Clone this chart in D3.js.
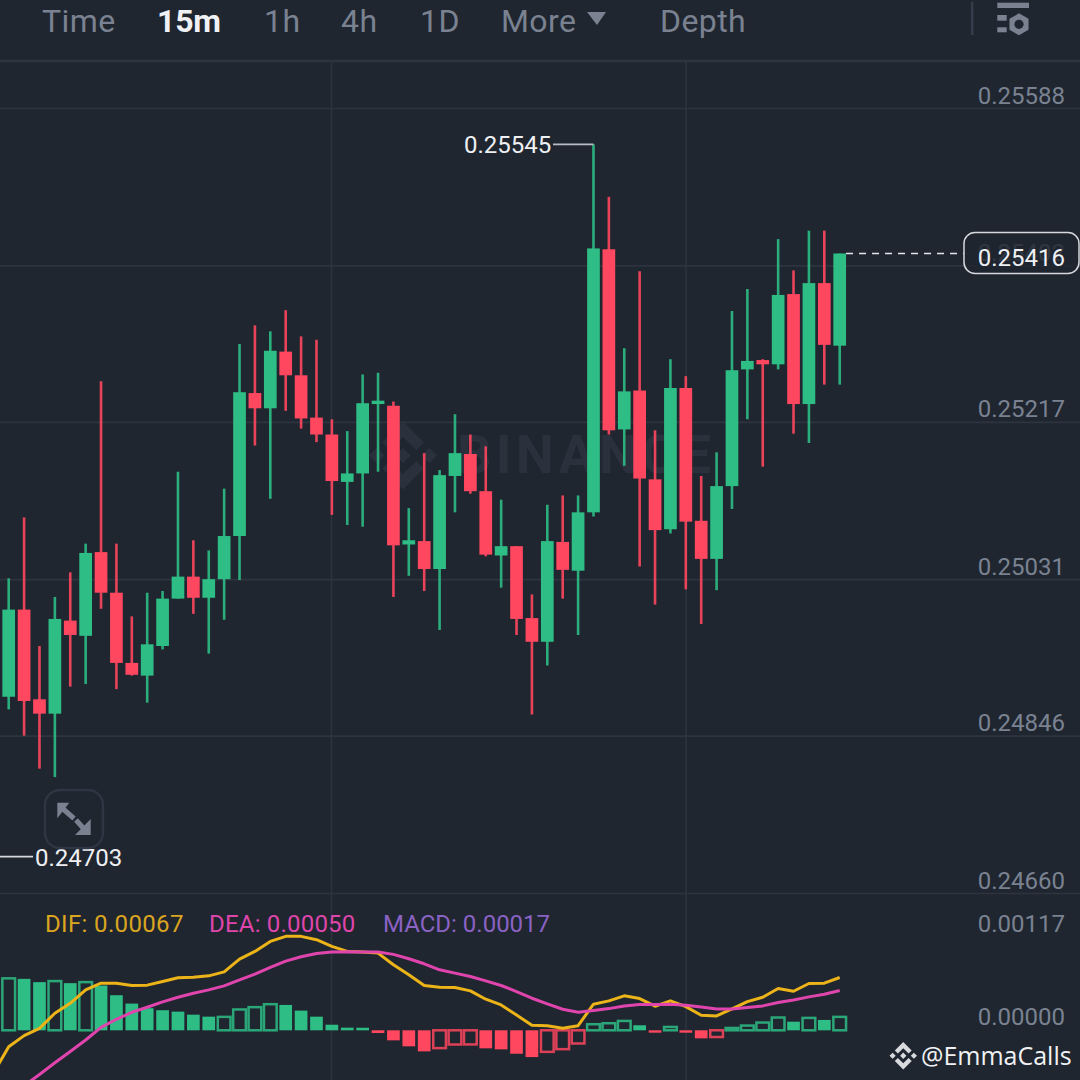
<!DOCTYPE html>
<html><head><meta charset="utf-8">
<style>html,body{margin:0;padding:0;background:#1f2630;overflow:hidden}svg{display:block}text{font-family:Roboto,sans-serif}</style>
<script src="https://cdn.jsdelivr.net/npm/d3@7"></script></head>
<body><svg id="c" width="1080" height="1080"></svg>
<script>
// Candles
const opens=[.24892,.24995,.24889,.24872,.24982,.24964,.25063,.25015,.24932,.24917,.24952,.25008,.25034,.25009,.25031,.25082,.25251,.25233,.25300,.25272,.25222,.25202,.25146,.25156,.25238,.25236,.25072,.25076,.25043,.25153,.25179,.25135,.25059,.25070,.24985,.24957,.25075,.25041,.25110,.25421,.25208,.25254,.25149,.25090,.25257,.25100,.25055,.25141,.25279,.25290,.25285,.25368,.25238,.25381,.25307];
const closes=[.24995,.24887,.24872,.24984,.24965,.25062,.25015,.24932,.24918,.24954,.25008,.25034,.25009,.25031,.25082,.25252,.25233,.25301,.25272,.25221,.25202,.25147,.25156,.25239,.25242,.25071,.25077,.25043,.25154,.25180,.25135,.25060,.25070,.24984,.24957,.25076,.25042,.25110,.25422,.25207,.25253,.25150,.25089,.25257,.25099,.25055,.25141,.25278,.25289,.25285,.25367,.25238,.25381,.25308,.25416];
const highs=[.25032,.25104,.24952,.25010,.25039,.25073,.25265,.25073,.24987,.25015,.25017,.25158,.25077,.25065,.25138,.25309,.25331,.25324,.25349,.25318,.25314,.25220,.25206,.25273,.25275,.25241,.25115,.25180,.25160,.25226,.25202,.25188,.25125,.25070,.25013,.25119,.25130,.25130,.25545,.25483,.25304,.25395,.25207,.25291,.25271,.25153,.25181,.25348,.25374,.25291,.25433,.25396,.25443,.25443,.25416];
const lows=[.24877,.24846,.24807,.24797,.24904,.24907,.24996,.24901,.24917,.24885,.24948,.25008,.24990,.24943,.24983,.25030,.25189,.25126,.25230,.25209,.25193,.25107,.25095,.25093,.25158,.25010,.25035,.25017,.24971,.25110,.25132,.25058,.25021,.24965,.24871,.24929,.25008,.24965,.25105,.25202,.25165,.25046,.25001,.25085,.25019,.24978,.25018,.25114,.25220,.25164,.25279,.25203,.25192,.25261,.25261];
const offscreenLow=0.24703;
// MACD panel, units of 0.00001. First entry is the candle just off the left edge.
const dif=[-54.1,-20.6,-6.7,2.5,21.4,33.9,50.7,59.1,59.1,56.2,56.6,61.2,65.8,66.6,68.3,73.3,89.3,98.9,111.5,117.8,117.8,113.6,105.2,98.9,98.1,96.8,82.2,69.6,56.2,54.1,53.6,49.4,39.0,31.8,19.2,6.2,5.8,2.5,5.8,32.7,36.9,43.2,39.8,30.2,36.9,29.7,18.8,18.0,26.8,36.0,41.5,52.4,49.0,58.7,59.1,66.2];
const dea=[-98.2,-83.9,-69.6,-55.4,-40.7,-26.5,-12.2,3.7,13.8,22.6,28.9,35.6,41.5,46.5,50.7,55.7,63.3,70.4,78.8,86.8,92.2,96.4,98.1,98.5,98.1,98.1,95.2,89.7,83.4,75.9,71.7,67.5,62.0,56.2,48.6,40.2,33.1,26.4,22.6,24.7,27.2,30.6,32.3,32.3,32.7,31.4,29.3,26.8,26.8,28.5,30.6,34.8,38.1,41.9,45.3,49.9];
const hist=[57,66.7,64.5,60.4,63.3,59.1,62.0,56.1,44.0,33.5,27.7,25.2,23.4,19.6,17.1,18.4,27.7,30.6,34.3,31.8,24.7,17.1,7.0,3.3,3.2,-3.4,-12.6,-20.1,-26.4,-23.9,-19.4,-19.3,-22.6,-23.9,-29.4,-33.6,-28.6,-25.2,-18.1,9.2,10.4,13.3,6.3,-3.0,5.8,-3.0,-10.1,-10.0,4.5,7.5,11.3,17.6,10.8,17.1,13.0,18.4];
// Labels
const priceTicks=[.25588,.25402,.25217,.25031,.24846,.24660];
const macdTicks=[117,0];
const lastPrice=0.25416;
const menuItems=[["Time",42],["15m",157],["1h",264],["4h",341],["1D",420],["More",501],["Depth",660]];
const legendItems=[["DIF: 0.00067",45,"#dca51f",.35],["DEA: 0.00050",209,"#df45ab",.2],["MACD: 0.00017",383,"#8a62c4",0]];
const verticalGrid=[331.5,686];

const BG="#1f2630",GRID="#2d343f",MUTED="#7a8291",UP="#2ebd85",DOWN="#ff475f";
const svg=d3.select("#c");
svg.append("rect").attr("width",1080).attr("height",1080).attr("fill",BG);

const x=d3.scaleLinear().domain([0,54]).range([8.7,839.7]);
const y=d3.scaleLinear().domain([.24660,.25588]).range([893,108]);
const ym=d3.scaleLinear().domain([0,117]).range([1030.3,937]);
const BW=12.7;

// Binance mark, unit box 126.61
const LOGO=[
 "38.73,53.2 63.31,28.63 87.9,53.22 102.2,38.92 63.31,0 24.42,38.9",
 "0,63.31 14.3,49.01 28.6,63.31 14.3,77.61",
 "38.73,73.41 63.31,97.98 87.9,73.4 102.21,87.69 63.31,126.61 24.41,87.71",
 "98,63.31 112.3,49.01 126.6,63.31 112.3,77.61",
 "77.83,63.3 63.31,48.78 48.8,63.29 63.31,77.81"];
function logo(px,py,size,fill){
 const g=svg.append("g").attr("transform",`translate(${px},${py}) scale(${size/126.61})`).attr("fill",fill);
 LOGO.forEach(p=>g.append("polygon").attr("points",p));
}
// Watermark
logo(369,421.5,68,"#2b313c");
svg.append("text").attr("x",457).attr("y",473).attr("font-size",54).attr("font-weight",700).attr("letter-spacing",4.2).attr("fill","#2b313c").text("BINANCE");

// Grid & price axis
svg.append("g").selectAll("line").data(verticalGrid).join("line")
 .attr("x1",d=>d).attr("x2",d=>d).attr("y1",62).attr("y2",1080).attr("stroke",GRID).attr("stroke-width",1.6);
const ax=svg.append("g").call(d3.axisRight(y).tickValues(priceTicks).tickSize(1080).tickFormat(d3.format(".5f")));
ax.select(".domain").remove();
ax.selectAll("line").attr("stroke",GRID).attr("stroke-width",1.6);
ax.selectAll("text").attr("x",1065).attr("y",0).attr("dy","-5px").attr("text-anchor","end").attr("font-size",24).attr("font-family","Roboto").attr("fill",MUTED);
svg.append("line").attr("x1",0).attr("x2",1080).attr("y1",61).attr("y2",61).attr("stroke",GRID).attr("stroke-width",2.4);

// Candles
const idx=d3.range(opens.length);
const col=i=>closes[i]>=opens[i]?UP:DOWN;
svg.append("g").selectAll("line").data(idx).join("line")
 .attr("x1",x).attr("x2",x).attr("y1",i=>y(highs[i])).attr("y2",i=>y(lows[i]))
 .attr("stroke",col).attr("stroke-width",2.6).attr("stroke-opacity",.9);
svg.append("g").selectAll("rect").data(idx).join("rect")
 .attr("x",i=>x(i)-BW/2).attr("width",BW)
 .attr("y",i=>y(Math.max(opens[i],closes[i])))
 .attr("height",i=>Math.max(2,Math.abs(y(opens[i])-y(closes[i]))))
 .attr("fill",col);

// Max / min annotations
const iMax=d3.maxIndex(highs);
const WHITE="#eef0f3";
svg.append("line").attr("x1",553).attr("x2",x(iMax)).attr("y1",y(highs[iMax])).attr("y2",y(highs[iMax])).attr("stroke","#b9bdc3").attr("stroke-width",1.6);
svg.append("text").attr("x",464).attr("y",y(highs[iMax])+9).attr("font-size",24).attr("fill",WHITE).text(d3.format(".5f")(highs[iMax]));
svg.append("line").attr("x1",0).attr("x2",33).attr("y1",y(offscreenLow)).attr("y2",y(offscreenLow)).attr("stroke","#d5d8dc").attr("stroke-width",1.6);
svg.append("text").attr("x",35).attr("y",y(offscreenLow)+9.5).attr("font-size",24).attr("fill",WHITE).text(d3.format(".5f")(offscreenLow));

// Last price
svg.append("line").attr("x1",x(54)+BW/2).attr("x2",964).attr("y1",y(lastPrice)).attr("y2",y(lastPrice))
 .attr("stroke","#e4e6ea").attr("stroke-width",1.5).attr("stroke-dasharray","7 6");
svg.append("rect").attr("x",964).attr("y",232.5).attr("width",115).attr("height",41).attr("rx",11)
 .attr("fill",BG).attr("fill-opacity",.82).attr("stroke","#d5d8dd").attr("stroke-width",1.5);
svg.append("text").attr("x",1065).attr("y",266).attr("text-anchor","end").attr("font-size",24).attr("fill",WHITE).text(d3.format(".5f")(lastPrice));

// Expand button
svg.append("rect").attr("x",45).attr("y",790).attr("width",58).attr("height",58).attr("rx",15).attr("fill","none").attr("stroke","#2f3643").attr("stroke-width",2.4);
[[ "57.3,802.7 69.3,802.7 57.3,818.3"],["90.7,819 90.7,835 75,835"]].forEach(p=>svg.append("polygon").attr("points",p[0]).attr("fill",MUTED));
[[62,808,74,818.5],[76,820,85,830]].forEach(l=>svg.append("line").attr("x1",l[0]).attr("y1",l[1]).attr("x2",l[2]).attr("y2",l[3]).attr("stroke",MUTED).attr("stroke-width",5));

// Header
svg.append("g").selectAll("text").data(menuItems).join("text")
 .attr("x",d=>d[1]).attr("y",32).attr("font-size",32).attr("letter-spacing",d=>d[0]==="15m"?-.2:.4)
 .attr("font-weight",d=>d[0]==="15m"?700:400)
 .attr("fill",d=>d[0]==="15m"?"#f0f1f4":MUTED).text(d=>d[0]);
svg.append("polygon").attr("points","587,12 606,12 597,25").attr("fill",MUTED);
svg.append("rect").attr("x",971).attr("y",2).attr("width",2.4).attr("height",33).attr("fill","#363d4a");
[[997.3,2.7,31.7,5.3],[997.3,15,9.4,5.7],[997.3,27.3,9.4,5]].forEach(r=>svg.append("rect").attr("x",r[0]).attr("y",r[1]).attr("width",r[2]).attr("height",r[3]).attr("fill",MUTED));
svg.append("polygon").attr("points",d3.range(6).map(k=>{const a=Math.PI/3*k-Math.PI/2;return [1019+11*Math.cos(a),24.3+11*Math.sin(a)].join(",")}).join(" ")).attr("fill",MUTED);
svg.append("circle").attr("cx",1019).attr("cy",24.3).attr("r",4.6).attr("fill",BG);

// MACD legend and axis labels
svg.append("g").selectAll("text").data(legendItems).join("text")
 .attr("x",d=>d[1]).attr("y",932).attr("font-size",24).attr("letter-spacing",d=>d[3]).attr("fill",d=>d[2]).text(d=>d[0]);
svg.append("g").selectAll("text").data(macdTicks).join("text")
 .attr("x",1065).attr("y",d=>ym(d)-5).attr("text-anchor","end").attr("font-size",24).attr("fill",MUTED).text(d=>d3.format(".5f")(d/1e5));

// MACD histogram: hollow while rising, solid while falling
const hi=d3.range(hist.length);
const hx=i=>x(i-1);
const hcol=i=>hist[i]>=0?UP:DOWN;
const rising=i=>i>0&&hist[i]>hist[i-1];
svg.append("g").selectAll("rect").data(hi).join("rect")
 .attr("x",i=>hx(i)-BW/2).attr("width",BW)
 .attr("y",i=>{const off=rising(i)?1.25:0;return hist[i]>=0?ym(hist[i])+off:ym(0)})
 .attr("height",i=>{const off=rising(i)?1.25:0;return Math.max(1,Math.abs(ym(hist[i])-ym(0))-off)})
 .attr("fill",i=>rising(i)?"none":hcol(i))
 .attr("stroke",i=>rising(i)?hcol(i):"none")
 .attr("stroke-width",2.5).attr("stroke-opacity",.85);

// MACD lines
const ln=d3.line().x((d,i)=>x(i-1)).y(d=>ym(d));
svg.append("path").attr("d",ln(dif)).attr("fill","none").attr("stroke","#ecb418").attr("stroke-width",3).attr("stroke-linejoin","round");
svg.append("path").attr("d",ln(dea)).attr("fill","none").attr("stroke","#e045ad").attr("stroke-width",3).attr("stroke-linejoin","round");

// Credit
logo(889.5,1042,27.5,"#d8dade");
svg.append("text").attr("x",921).attr("y",1065).attr("font-size",25).attr("fill","#f0f1f3").style("font-family","'Open Sans'").text("@EmmaCalls");
</script></body></html>
